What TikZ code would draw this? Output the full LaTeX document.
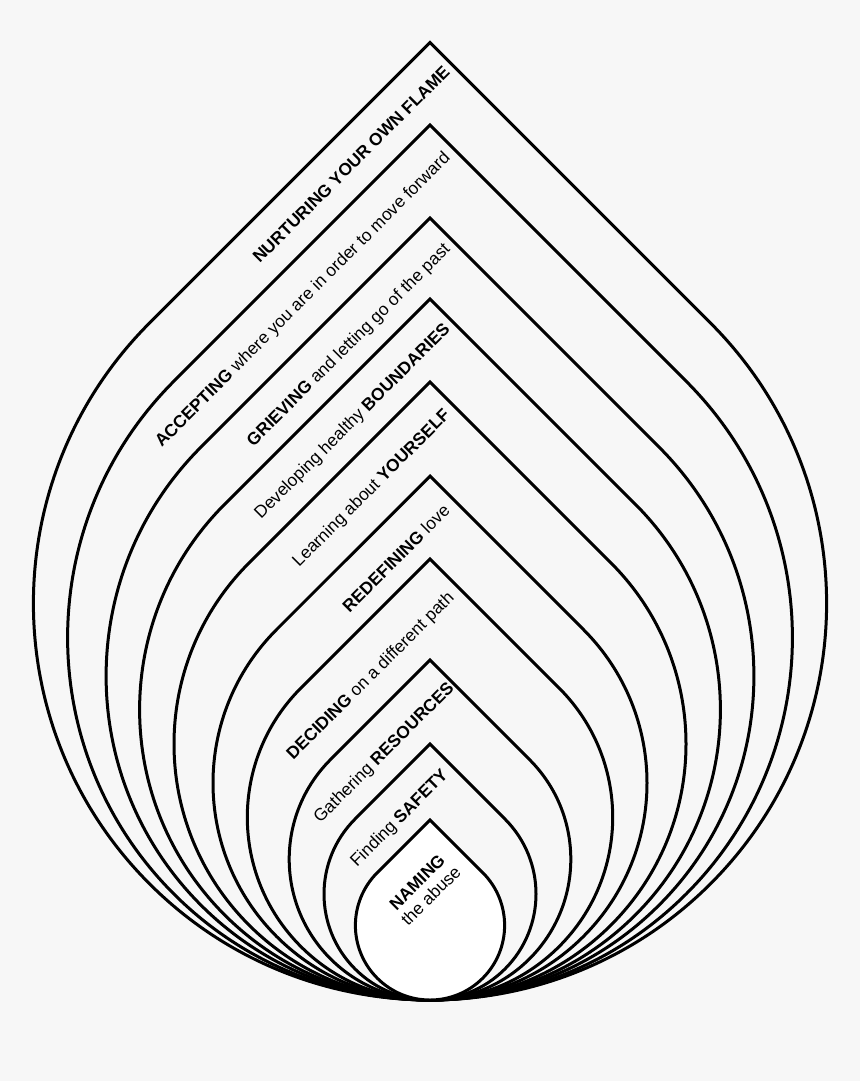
\documentclass[tikz,border=0pt]{standalone}
\usepackage{fontspec}
\setmainfont{Liberation Sans}
\usetikzlibrary{positioning}
\definecolor{paper}{HTML}{F7F7F7}
\tikzset{drop line/.style={draw=black,line width=3pt,line join=miter},
         inner drop/.style={drop line,fill=white},
         band label/.style={rotate=45,anchor=base east,inner sep=0pt,font=\fontsize{17.3}{20}\selectfont},
         core label/.style={rotate=45,align=center,inner sep=0pt,font=\fontsize{17.3}{19.5}\selectfont},
}

\begin{document}
\begin{tikzpicture}[x=1pt,y=-1pt]
\fill[paper] (0,0) rectangle (860,1081);
\useasboundingbox (0,0) rectangle (860,1081);
% \draw[help lines,step=50] (0,0) grid (860,1081);
\foreach \r in {396.6,362.4,323.9,290.4,256,217,182.7,140.8,106}{
  \draw[drop line] (430,{1000-2.4142*\r}) -- ({430-0.7071*\r},{1000-1.7071*\r})
      arc[start angle=225,end angle=-45,radius=\r] -- cycle;
}
\draw[inner drop] (430,{1000-2.4142*74.6}) -- ({430-0.7071*74.6},{1000-1.7071*74.6})
      arc[start angle=225,end angle=-45,radius=74.6] -- cycle;

\node[band label] (flame) at (451,72.8) {\textbf{NURTURING YOUR OWN FLAME}};
\node[band label] (accept) at (451,158.8) {\textbf{ACCEPTING} where you are in order to move forward};
\node[band label] (grieve) at (451,249.8) {\textbf{GRIEVING} and letting go of the past};
\node[band label] (bound) at (451,329.8) {Developing healthy \textbf{BOUNDARIES}};
\node[band label] (self) at (451,415.8) {Learning about \textbf{YOURSELF}};
\node[band label] (love) at (451,511.8) {\textbf{REDEFINING} love};
\node[band label] (path) at (455,598.8) {\textbf{DECIDING} on a different path};
\node[band label] (res) at (455,688.8) {Gathering \textbf{RESOURCES}};
\node[band label] (safe) at (449,775.8) {Finding \textbf{SAFETY}};
\node[core label] (name) at (424,889) {\textbf{NAMING}\\the abuse};

\end{tikzpicture}
\end{document}
